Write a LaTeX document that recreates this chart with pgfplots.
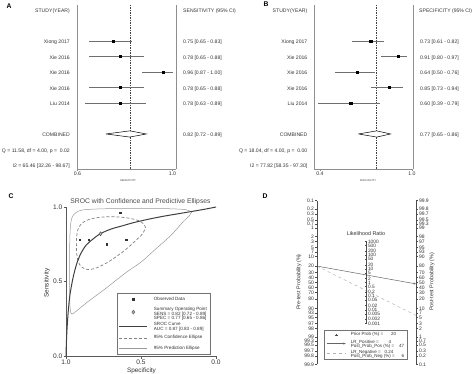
\documentclass[border=0pt]{standalone}
\usepackage{pgfplots}
\pgfplotsset{compat=1.18}
\usepackage{pgfplotstable}
\usepackage{fontspec}
\setmainfont{Liberation Sans}
\usetikzlibrary{arrows.meta}
\definecolor{wall}{HTML}{8E8E8E}
\definecolor{cig}{HTML}{6E6E6E}
\definecolor{txt}{HTML}{333333}
\newcommand{\fs}[1]{\fontsize{#1}{#1}\selectfont}

% forest plot data: y = -row, estimate, minus, plus
\pgfplotstableread{
y est em ep
-1 0.75 0.10 0.08
-2 0.78 0.13 0.10
-3 0.96 0.09 0.04
-4 0.78 0.13 0.10
-5 0.78 0.15 0.11
}\sensA
\pgfplotstableread{
y est em ep
-1 0.73 0.12 0.09
-2 0.91 0.11 0.06
-3 0.64 0.14 0.12
-4 0.85 0.12 0.09
-5 0.60 0.21 0.19
}\specB
% SROC data (specificity, sensitivity)
\pgfplotstableread{
spec sens
0.73 0.75
0.91 0.78
0.64 0.96
0.85 0.78
0.60 0.78
}\obsC
\pgfplotstableread{
spec sens
0.77 0.82
}\sumC
\pgfplotstableread{
spec sens
1.000 0.000
0.997 0.100
0.992 0.200
0.985 0.300
0.975 0.400
0.962 0.480
0.945 0.560
0.925 0.630
0.900 0.690
0.865 0.745
0.820 0.785
0.773 0.820
0.700 0.852
0.630 0.872
0.550 0.895
0.450 0.918
0.350 0.938
0.250 0.955
0.150 0.972
0.070 0.986
0.000 1.000
}\srocC
\pgfplotstableread{
spec sens
0.470 0.860
0.480 0.885
0.520 0.910
0.600 0.928
0.700 0.935
0.780 0.930
0.850 0.915
0.895 0.890
0.920 0.850
0.930 0.790
0.930 0.720
0.925 0.660
0.910 0.615
0.885 0.590
0.850 0.580
0.800 0.590
0.720 0.630
0.620 0.700
0.540 0.770
0.490 0.820
0.470 0.860
}\confC
\pgfplotstableread{
spec sens
0.162 0.966
0.200 0.982
0.300 0.988
0.450 0.990
0.600 0.990
0.750 0.988
0.850 0.984
0.900 0.978
0.930 0.965
0.955 0.940
0.967 0.900
0.973 0.830
0.976 0.700
0.977 0.550
0.976 0.420
0.973 0.330
0.968 0.290
0.960 0.282
0.948 0.288
0.920 0.310
0.860 0.360
0.740 0.450
0.600 0.560
0.500 0.630
0.400 0.720
0.300 0.810
0.220 0.900
0.180 0.940
0.162 0.966
}\predC

\begin{document}
\begin{tikzpicture}
\useasboundingbox (0,0) rectangle (474pt,-374pt);
\fill[white] (0,0) rectangle (474pt,-374pt);

% panel letters
\begin{scope}[font=\bfseries\fs{6.8}, inner sep=0pt]
\node at (9pt,-6pt) {A};
\node at (266pt,-4pt) {B};
\node at (11pt,-196pt) {C};
\node at (265pt,-196pt) {D};
\end{scope}

%%%%%%%%%%%%%%%% Panel A
\begin{axis}[at={(77pt,-169pt)}, anchor=south west, scale only axis,
  width=99pt, height=164pt,
  xmin=0.5979, xmax=1.0147, ymin=-9.26, ymax=1.32,
  axis x line*=bottom, axis y line*=box,
  axis line style={wall, line width=0.9pt},
  xtick={0.6,1.0}, xticklabels={0.6,1.0}, ytick=\empty,
  tick align=outside, major tick length=2pt,
  x tick style={wall, line width=0.6pt},
  xticklabel style={font=\fs{5.2}, text=txt, inner sep=1pt},
  clip=false]
\addplot[black!75, dash pattern=on 1.5pt off 1pt, line width=0.5pt] coordinates {(0.82,-9.26) (0.82,1.32)};
\addplot[only marks, mark=square*, mark size=1.1pt, black,
  error bars/.cd, x dir=both, x explicit, error mark=none,
  error bar style={cig, line width=0.5pt}]
  table[x=est, y=y, x error minus=em, x error plus=ep] {\sensA};
\addplot[black, fill=white, line width=0.5pt] coordinates {(0.72,-7) (0.82,-6.8) (0.89,-7) (0.82,-7.2) (0.72,-7)};
\end{axis}
\begin{scope}[font=\fs{5.1}, text=txt, inner sep=0pt]
\node[anchor=mid east] at (70pt,-10pt) {STUDY(YEAR)};
\node[anchor=mid west] at (183pt,-10pt) {SENSITIVITY (95\% CI)};
\node[anchor=mid east] at (70pt,-41pt) {Xiong 2017};
\node[anchor=mid east] at (70pt,-56.5pt) {Xie 2016};
\node[anchor=mid east] at (70pt,-72pt) {Xie 2016};
\node[anchor=mid east] at (70pt,-87.5pt) {Xie 2016};
\node[anchor=mid east] at (70pt,-103pt) {Liu 2014};
\node[anchor=mid east] at (70pt,-134pt) {COMBINED};
\node[anchor=mid east] at (70pt,-150pt) {Q = 11.58, df = 4.00, p = \ 0.02};
\node[anchor=mid east] at (70pt,-165pt) {I2 = 65.46 [32.26 - 98.67]};
\node[anchor=mid west] at (183pt,-41pt) {0.75 [0.65 - 0.83]};
\node[anchor=mid west] at (183pt,-56.5pt) {0.78 [0.65 - 0.88]};
\node[anchor=mid west] at (183pt,-72pt) {0.96 [0.87 - 1.00]};
\node[anchor=mid west] at (183pt,-87.5pt) {0.78 [0.65 - 0.88]};
\node[anchor=mid west] at (183pt,-103pt) {0.78 [0.63 - 0.89]};
\node[anchor=mid west] at (183pt,-134pt) {0.82 [0.72 - 0.89]};
\node[font=\fs{2.6}] at (128pt,-181pt) {SENSITIVITY};
\end{scope}

%%%%%%%%%%%%%%%% Panel B
\begin{axis}[at={(314pt,-169pt)}, anchor=south west, scale only axis,
  width=99pt, height=164pt,
  xmin=0.3609, xmax=1.0065, ymin=-9.26, ymax=1.32,
  axis x line*=bottom, axis y line*=box,
  axis line style={wall, line width=0.9pt},
  xtick={0.4,1.0}, xticklabels={0.4,1.0}, ytick=\empty,
  tick align=outside, major tick length=2pt,
  x tick style={wall, line width=0.6pt},
  xticklabel style={font=\fs{5.2}, text=txt, inner sep=1pt},
  clip=false]
\addplot[black!75, dash pattern=on 1.5pt off 1pt, line width=0.5pt] coordinates {(0.77,-9.26) (0.77,1.32)};
\addplot[only marks, mark=square*, mark size=1.1pt, black,
  error bars/.cd, x dir=both, x explicit, error mark=none,
  error bar style={cig, line width=0.5pt}]
  table[x=est, y=y, x error minus=em, x error plus=ep] {\specB};
\addplot[black, fill=white, line width=0.5pt] coordinates {(0.65,-7) (0.77,-6.8) (0.86,-7) (0.77,-7.2) (0.65,-7)};
\end{axis}
\begin{scope}[font=\fs{5.1}, text=txt, inner sep=0pt]
\node[anchor=mid east] at (307.5pt,-10pt) {STUDY(YEAR)};
\node[anchor=mid west] at (419pt,-10pt) {SPECIFICITY (95\% CI)};
\node[anchor=mid east] at (307.5pt,-41pt) {Xiong 2017};
\node[anchor=mid east] at (307.5pt,-56.5pt) {Xie 2016};
\node[anchor=mid east] at (307.5pt,-72pt) {Xie 2016};
\node[anchor=mid east] at (307.5pt,-87.5pt) {Xie 2016};
\node[anchor=mid east] at (307.5pt,-103pt) {Liu 2014};
\node[anchor=mid east] at (307.5pt,-134pt) {COMBINED};
\node[anchor=mid east] at (307.5pt,-150pt) {Q = 18.04, df = 4.00, p = \ 0.00};
\node[anchor=mid east] at (307.5pt,-165pt) {I2 = 77.82 [58.35 - 97.30]};
\node[anchor=mid west] at (420pt,-41pt) {0.73 [0.61 - 0.82]};
\node[anchor=mid west] at (420pt,-56.5pt) {0.91 [0.80 - 0.97]};
\node[anchor=mid west] at (420pt,-72pt) {0.64 [0.50 - 0.76]};
\node[anchor=mid west] at (420pt,-87.5pt) {0.85 [0.73 - 0.94]};
\node[anchor=mid west] at (420pt,-103pt) {0.60 [0.39 - 0.79]};
\node[anchor=mid west] at (420pt,-134pt) {0.77 [0.65 - 0.86]};
\node[font=\fs{2.6}] at (368pt,-181pt) {SPECIFICITY};
\end{scope}

%%%%%%%%%%%%%%%% Panel C
\begin{axis}[at={(66pt,-356pt)}, anchor=south west, scale only axis,
  width=150pt, height=149pt,
  xmin=0, xmax=1, ymin=0, ymax=1,
  axis x line*=bottom, axis y line*=left,
  axis line style={black!65, line width=0.6pt},
  xtick={0,0.5,1}, xticklabels={1.0,0.5,0.0},
  ytick={0,0.5,1}, yticklabels={0.0,0.5,1.0},
  tick align=outside, major tick length=2.5pt,
  tick style={black!65, line width=0.6pt},
  ticklabel style={font=\fs{6.6}, text=txt, inner sep=1pt},
  clip=false,
  legend style={at={(axis description cs:0.96,0.008)}, anchor=south east,
    draw=black!55, line width=0.4pt, font=\fs{4.6}, text=txt,
    inner xsep=2pt, inner ysep=3pt, row sep=3.5pt,
    nodes={inner sep=1pt},
    /tikz/every odd column/.style={column sep=5pt}},
  legend cell align=left,
  legend image code/.code={\draw[mark repeat=2,mark phase=2,#1] plot coordinates {(0pt,0pt) (14pt,0pt) (28pt,0pt)};}]
\addlegendimage{only marks, mark=square*, mark size=0.7pt, black!80}
\addlegendentry{Observed Data}
\addlegendimage{only marks, mark=diamond*, mark size=2pt, fill=gray!60, draw=black!70}
\addlegendentry{\begin{tabular}{@{}l@{}}Summary Operating Point\\SENS = 0.82 [0.72 - 0.89]\\SPEC = 0.77 [0.65 - 0.86]\end{tabular}}
\addlegendimage{black!75, line width=1pt}
\addlegendentry{\begin{tabular}{@{}l@{}}SROC Curve\\AUC = 0.87 [0.83 - 0.89]\end{tabular}}
\addlegendimage{gray, dash pattern=on 3pt off 2pt, line width=0.7pt}
\addlegendentry{95\% Confidence Ellipse}
\addlegendimage{gray!80, line width=0.5pt}
\addlegendentry{95\% Prediction Ellipse}
\addplot[gray!80, line width=0.5pt, smooth, forget plot] table[x expr=1-\thisrow{spec}, y=sens] {\predC};
\addplot[gray, dash pattern=on 3pt off 2pt, line width=0.7pt, smooth, forget plot] table[x expr=1-\thisrow{spec}, y=sens] {\confC};
\addplot[black!75, line width=1pt, smooth, forget plot] table[x expr=1-\thisrow{spec}, y=sens] {\srocC};
\addplot[only marks, mark=square*, mark size=0.7pt, black!80, forget plot] table[x expr=1-\thisrow{spec}, y=sens] {\obsC};
\addplot[only marks, mark=diamond*, mark size=2pt, fill=gray!60, draw=black!70, forget plot] table[x expr=1-\thisrow{spec}, y=sens] {\sumC};
\end{axis}
\node[font=\fs{6.8}, text=black!70] at (140.5pt,-202pt) {SROC with Confidence and Predictive Ellipses};
\node[font=\fs{6.4}, text=txt, rotate=90] at (47pt,-283pt) {Sensitivity};
\node[font=\fs{6.4}, text=txt] at (141.5pt,-370.5pt) {Specificity};

%%%%%%%%%%%%%%%% Panel D
\begin{axis}[at={(317pt,-364.3pt)}, anchor=south west, scale only axis,
  width=99pt, height=163.6pt, xmin=0, xmax=2, ymin=-6.9068, ymax=6.9068,
  axis x line=none, axis y line*=left,
  axis line style={black!70, line width=0.5pt},
  ytick={-6.9068,-6.2126,-5.8061,-5.2933,-4.9548,-4.5951,-3.8918,-3.4761,-2.9444,-2.5867,-2.1972,-1.3863,-0.8473,-0.4055,0,0.4055,0.8473,1.3863,2.1972,2.5867,2.9444,3.4761,3.8918,4.5951,4.9548,5.2933,5.8061,6.2126,6.9068},
  yticklabels={99.9,99.8,99.7,99.5,99.3,99,98,97,95,93,90,80,70,60,50,40,30,20,10,7,5,3,2,1,0.7,0.5,0.3,0.2,0.1},
  tick align=outside, major tick length=1.8pt, tick style={black!70, line width=0.4pt},
  yticklabel style={font=\fs{5}, text=txt, inner sep=1pt},
  clip=false,
  legend style={at={(axis description cs:0.074,0.2097)}, anchor=north west,
    draw=black!55, line width=0.4pt, font=\fs{4.5}, text=txt,
    inner xsep=2pt, inner ysep=1.5pt, row sep=1pt,
    nodes={inner sep=0.8pt},
    /tikz/every odd column/.style={column sep=4pt}},
  legend cell align=left,
  legend image code/.code={\draw[mark repeat=2,mark phase=2,#1] plot coordinates {(0pt,0pt) (9.5pt,0pt) (19pt,0pt)};}]
\addlegendimage{only marks, mark=+, mark size=1.3pt, black!70}
\addlegendentry{Prior Prob (\%) =\hspace{8pt}20}
\addlegendimage{black!60, line width=0.5pt, -{Stealth[length=2.5pt,width=2pt]}}
\addlegendentry{\begin{tabular}{@{}l@{}}LR\_Positive =\hspace{10pt}4\\Post\_Prob\_Pos (\%) =\hspace{5pt}47\end{tabular}}
\addlegendimage{black!30, dashed, line width=0.5pt}
\addlegendentry{\begin{tabular}{@{}l@{}}LR\_Negative =\hspace{4pt}0.24\\Post\_Prob\_Neg (\%) =\hspace{7pt}6\end{tabular}}
\addplot[black!60, line width=0.5pt, -{Stealth[length=2.5pt,width=2pt]}, forget plot] coordinates {(0,1.3863) (2,-0.12)};
\addplot[black!30, dashed, line width=0.5pt, forget plot] coordinates {(0,1.3863) (2,-2.78)};
\addplot[only marks, mark=+, mark size=1.3pt, black!70, forget plot] coordinates {(0,1.3863)};
\end{axis}
\begin{axis}[at={(317pt,-364.3pt)}, anchor=south west, scale only axis,
  width=99pt, height=163.6pt, xmin=0, xmax=2, ymin=-6.9068, ymax=6.9068,
  axis x line=none, axis y line*=right,
  axis line style={black!70, line width=0.5pt},
  ytick={-6.9068,-6.2126,-5.8061,-5.2933,-4.9548,-4.5951,-3.8918,-3.4761,-2.9444,-2.5867,-2.1972,-1.3863,-0.8473,-0.4055,0,0.4055,0.8473,1.3863,2.1972,2.5867,2.9444,3.4761,3.8918,4.5951,4.9548,5.2933,5.8061,6.2126,6.9068},
  yticklabels={0.1,0.2,0.3,0.5,0.7,1,2,3,5,7,10,20,30,40,50,60,70,80,90,93,95,97,98,99,99.3,99.5,99.7,99.8,99.9},
  tick align=outside, major tick length=1.8pt, tick style={black!70, line width=0.4pt},
  yticklabel style={font=\fs{5}, text=txt, inner sep=1pt}]
\end{axis}
\begin{axis}[at={(366pt,-323.4pt)}, anchor=south east, scale only axis,
  width=10pt, height=81.8pt, xmin=0, xmax=1, ymin=-3.4539, ymax=3.4539,
  axis x line=none, axis y line*=right,
  axis line style={black!70, line width=0.5pt},
  ytick={-3.4539,-3.1073,-2.6492,-2.3026,-1.9560,-1.4979,-1.1513,-0.8047,-0.3466,0,0.3466,0.8047,1.1513,1.4979,1.9560,2.3026,2.6492,3.1073,3.4539},
  yticklabels={0.001,0.002,0.005,0.01,0.02,0.05,0.1,0.2,0.5,1,2,5,10,20,50,100,200,500,1000},
  tick align=center, major tick length=2pt, tick style={black!70, line width=0.4pt},
  yticklabel style={font=\fs{4.8}, text=txt, inner sep=0.8pt}]
\end{axis}
\node[font=\fs{5.4}, text=txt] at (366pt,-234pt) {Likelihood Ratio};
\node[font=\fs{5.4}, text=txt, rotate=90] at (299pt,-282pt) {Pre-test Probability (\%)};
\node[font=\fs{5.4}, text=txt, rotate=90] at (432pt,-282pt) {Post-test Probability (\%)};
\end{tikzpicture}
\end{document}
